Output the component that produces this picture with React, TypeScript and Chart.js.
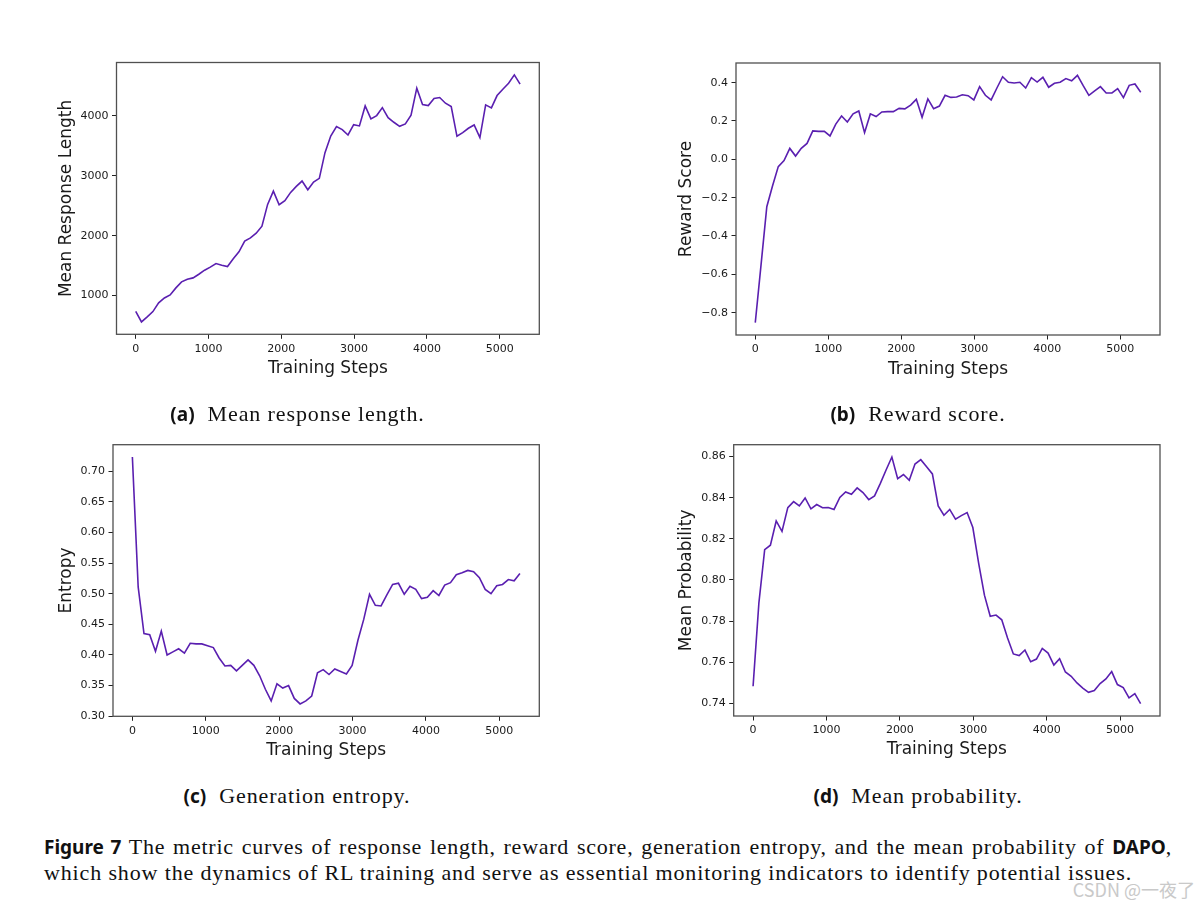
import React, { useEffect, useRef } from "react";
import { Chart, registerables } from "chart.js";

Chart.register(...registerables);

// ---------------- data ----------------
const STEPS = [
  0, 79, 158, 236, 315, 394, 473, 552, 630, 709,
  788, 867, 946, 1024, 1103, 1182, 1261, 1340, 1418, 1497,
  1576, 1655, 1734, 1812, 1891, 1970, 2049, 2128, 2206, 2285,
  2364, 2443, 2522, 2600, 2679, 2758, 2837, 2916, 2994, 3073,
  3152, 3231, 3310, 3388, 3467, 3546, 3625, 3704, 3782, 3861,
  3940, 4019, 4098, 4176, 4255, 4334, 4413, 4492, 4570, 4649,
  4728, 4807, 4886, 4964, 5043, 5122, 5201, 5280,
];

const LENGTH_VALUES = [
  737, 559, 643, 732, 877, 960, 1011, 1128, 1228, 1273,
  1295, 1356, 1423, 1474, 1535, 1507, 1485, 1613, 1730, 1909,
  1964, 2042, 2159, 2522, 2745, 2516, 2583, 2723, 2823, 2912,
  2767, 2896, 2957, 3387, 3665, 3822, 3771, 3682, 3855, 3833,
  4167, 3950, 4006, 4139, 3972, 3894, 3827, 3866, 4011, 4463,
  4190, 4173, 4290, 4307, 4212, 4156, 3660, 3721, 3794, 3849,
  3637, 4184, 4134, 4340, 4446, 4547, 4686, 4530,
];

const REWARD_VALUES = [
  -0.852, -0.551, -0.247, -0.139, -0.038, -0.007, 0.057, 0.017, 0.057, 0.083,
  0.148, 0.146, 0.146, 0.122, 0.184, 0.226, 0.195, 0.237, 0.252, 0.139,
  0.237, 0.223, 0.247, 0.249, 0.249, 0.266, 0.263, 0.283, 0.313, 0.219,
  0.315, 0.264, 0.278, 0.334, 0.323, 0.325, 0.337, 0.332, 0.31, 0.379,
  0.334, 0.31, 0.372, 0.431, 0.402, 0.398, 0.402, 0.372, 0.426, 0.403,
  0.428, 0.376, 0.397, 0.402, 0.421, 0.41, 0.438, 0.384, 0.334, 0.357,
  0.379, 0.346, 0.346, 0.369, 0.322, 0.386, 0.393, 0.35,
];

const ENTROPY_VALUES = [
  0.723, 0.511, 0.435, 0.433, 0.406, 0.439, 0.4, 0.405, 0.41, 0.403,
  0.419, 0.418, 0.418, 0.415, 0.412, 0.395, 0.382, 0.383, 0.374, 0.383,
  0.392, 0.383, 0.366, 0.344, 0.325, 0.353, 0.346, 0.35, 0.329, 0.32,
  0.325, 0.333, 0.371, 0.376, 0.368, 0.377, 0.373, 0.369, 0.383, 0.424,
  0.458, 0.499, 0.481, 0.48, 0.498, 0.515, 0.517, 0.499, 0.512, 0.507,
  0.492, 0.494, 0.505, 0.497, 0.514, 0.518, 0.531, 0.534, 0.538, 0.536,
  0.526, 0.507, 0.5, 0.513, 0.515, 0.523, 0.521, 0.533,
];

const PROB_VALUES = [
  0.7483, 0.7887, 0.8147, 0.8169, 0.8287, 0.8236, 0.8352, 0.8381, 0.836, 0.8399,
  0.8346, 0.8367, 0.8351, 0.8352, 0.8343, 0.8401, 0.8428, 0.8417, 0.8448, 0.8425,
  0.8391, 0.8409, 0.847, 0.8535, 0.8598, 0.8493, 0.8513, 0.8485, 0.8564, 0.8585,
  0.8551, 0.8516, 0.836, 0.8315, 0.8343, 0.8296, 0.8313, 0.8328, 0.8255, 0.8082,
  0.7926, 0.7823, 0.7829, 0.7806, 0.7717, 0.764, 0.7632, 0.7659, 0.7602, 0.7615,
  0.7667, 0.7644, 0.7586, 0.7617, 0.7552, 0.7531, 0.7499, 0.7474, 0.7453, 0.7462,
  0.7496, 0.7518, 0.7554, 0.7491, 0.7476, 0.7426, 0.7447, 0.7398,
];

const X_TICKS = [0, 1000, 2000, 3000, 4000, 5000];
const LENGTH_TICKS = [1000, 2000, 3000, 4000];
const REWARD_TICKS = [-0.8, -0.6, -0.4, -0.2, 0.0, 0.2, 0.4];
const ENTROPY_TICKS = [0.3, 0.35, 0.4, 0.45, 0.5, 0.55, 0.6, 0.65, 0.7];
const PROB_TICKS = [0.74, 0.76, 0.78, 0.8, 0.82, 0.84, 0.86];

const X_TITLE = "Training Steps";

// ---------------- styling ----------------
const LINE_COLOR = "#5a1fb0";
const FRAME_COLOR = "#505050";
const TEXT_COLOR = "#1a1a1a";
const TICK_FONT = 11;
const TITLE_FONT = 17;
const SANS = '"DejaVu Sans", sans-serif';
const SERIF = '"Liberation Serif", "DejaVu Serif", serif';
const BOLD_SANS = '"Noto Sans", "DejaVu Sans", sans-serif';

type PanelSpec = {
  values: number[];
  yTicks: number[];
  decimals: number;
  yTitle: string;
  box: [number, number, number, number]; // canvas left, top, width, height
  area: [number, number, number, number]; // plot left, top, right, bottom
  yTitleX: number;
  xTitleY: number;
};

const PANELS: PanelSpec[] = [
  {
    values: LENGTH_VALUES, yTicks: LENGTH_TICKS, decimals: 0, yTitle: "Mean Response Length",
    box: [40, 36, 520, 354], area: [116.5, 62.5, 539.3, 334.3], yTitleX: 67, xTitleY: 369,
  },
  {
    values: REWARD_VALUES, yTicks: REWARD_TICKS, decimals: 1, yTitle: "Reward Score",
    box: [660, 36, 520, 354], area: [736, 63, 1160, 335], yTitleX: 687, xTitleY: 369.5,
  },
  {
    values: ENTROPY_VALUES, yTicks: ENTROPY_TICKS, decimals: 2, yTitle: "Entropy",
    box: [40, 418, 520, 354], area: [113, 444.7, 539.3, 716.3], yTitleX: 67, xTitleY: 750.3,
  },
  {
    values: PROB_VALUES, yTicks: PROB_TICKS, decimals: 2, yTitle: "Mean Probability",
    box: [660, 418, 520, 354], area: [733.7, 444.7, 1160, 716], yTitleX: 687, xTitleY: 750,
  },
];

const framePlugin = {
  id: "frame",
  afterDatasetsDraw(chart: any) {
    const { ctx, chartArea } = chart;
    ctx.save();
    ctx.strokeStyle = FRAME_COLOR;
    ctx.lineWidth = 1.3;
    ctx.strokeRect(chartArea.left, chartArea.top, chartArea.right - chartArea.left, chartArea.bottom - chartArea.top);
    ctx.restore();
  },
};

function fmt(v: number, d: number) {
  const s = Number(v).toFixed(d);
  return s.replace("-", "\u2212");
}

function Panel({ spec }: { spec: PanelSpec }) {
  const ref = useRef<HTMLCanvasElement>(null);
  const [CL, CT, CW, CH] = spec.box;
  useEffect(() => {
    const [L, T, R, B] = spec.area;
    const half = (TITLE_FONT * 1.2) / 2;
    const yBoxLeft = spec.yTitleX - half;
    const xBoxBottom = spec.xTitleY + half;
    const lo = Math.min(...spec.values);
    const hi = Math.max(...spec.values);
    const ypad = (hi - lo) * 0.05;
    const xlo = Math.min(...STEPS);
    const xhi = Math.max(...STEPS);
    const xpad = (xhi - xlo) * 0.05;
    const tickCommon = {
      color: TEXT_COLOR,
      font: { family: SANS, size: TICK_FONT },
      padding: 3.5,
      autoSkip: false,
      maxRotation: 0,
      minRotation: 0,
    };
    const gridCommon = {
      display: true,
      drawOnChartArea: false,
      drawTicks: true,
      tickLength: 4.5,
      tickColor: "#222",
      tickWidth: 1,
    };
    const titleCommon = {
      display: true,
      color: TEXT_COLOR,
      font: { family: SANS, size: TITLE_FONT, lineHeight: 1.2 },
      padding: 0,
    };
    const chart = new Chart(ref.current as HTMLCanvasElement, {
      type: "line",
      data: {
        datasets: [
          {
            data: STEPS.map((s, i) => ({ x: s, y: spec.values[i] })),
            borderColor: LINE_COLOR,
            borderWidth: 1.6,
            pointRadius: 0,
            tension: 0,
            fill: false,
          },
        ],
      },
      options: {
        animation: false,
        responsive: false,
        maintainAspectRatio: false,
        events: [],
        layout: {
          padding: {
            left: yBoxLeft - CL,
            top: T - CT,
            right: CL + CW - R,
            bottom: CT + CH - xBoxBottom,
          },
        },
        plugins: { legend: { display: false }, tooltip: { enabled: false } },
        scales: {
          x: {
            type: "linear",
            min: xlo - xpad,
            max: xhi + xpad,
            afterBuildTicks: (s: any) => {
              s.ticks = X_TICKS.map((v) => ({ value: v }));
            },
            afterFit: (s: any) => {
              s.height = xBoxBottom - B;
            },
            ticks: { ...tickCommon, callback: (v: any) => fmt(v, 0) },
            grid: gridCommon,
            border: { display: false },
            title: { ...titleCommon, text: X_TITLE },
          },
          y: {
            type: "linear",
            min: lo - ypad,
            max: hi + ypad,
            afterBuildTicks: (s: any) => {
              s.ticks = spec.yTicks.map((v) => ({ value: v }));
            },
            afterFit: (s: any) => {
              s.width = L - yBoxLeft;
            },
            ticks: { ...tickCommon, callback: (v: any) => fmt(v, spec.decimals) },
            grid: gridCommon,
            border: { display: false },
            title: { ...titleCommon, text: spec.yTitle },
          },
        },
      } as any,
      plugins: [framePlugin],
    });
    return () => chart.destroy();
  }, []);
  return (
    <canvas
      ref={ref}
      width={CW}
      height={CH}
      style={{ position: "absolute", left: CL, top: CT, width: CW, height: CH }}
    />
  );
}

const SUBCAPTIONS = [
  { tag: "(a)", text: "Mean response length.", cx: 297.5, cy: 414 },
  { tag: "(b)", text: "Reward score.", cx: 918, cy: 414 },
  { tag: "(c)", text: "Generation entropy.", cx: 297, cy: 796 },
  { tag: "(d)", text: "Mean probability.", cx: 918, cy: 796 },
];

const serifStyle: React.CSSProperties = {
  fontFamily: SERIF,
  fontSize: 22,
  letterSpacing: "0.88px",
  color: "#111",
};

const tagStyle: React.CSSProperties = {
  fontFamily: BOLD_SANS,
  fontWeight: 700,
  fontSize: 19,
  color: "#111",
};

export default function App() {
  return (
    <div
      style={{
        position: "absolute",
        left: 0,
        top: 0,
        width: 1204,
        height: 910,
        background: "#fff",
        overflow: "hidden",
      }}
    >
      {PANELS.map((p, i) => (
        <Panel key={i} spec={p} />
      ))}
      {SUBCAPTIONS.map((c, i) => (
        <div
          key={i}
          style={{
            position: "absolute",
            left: c.cx - 300,
            width: 600,
            top: c.cy - 13,
            height: 26,
            lineHeight: "26px",
            textAlign: "center",
            whiteSpace: "nowrap",
          }}
        >
          <span style={tagStyle}>{c.tag}</span>
          <span style={{ ...serifStyle, marginLeft: 13 }}>{c.text}</span>
        </div>
      ))}
      <div
        style={{
          position: "absolute",
          left: 44,
          width: 1128,
          top: 834,
          height: 26,
          lineHeight: "26px",
          textAlign: "justify",
          textAlignLast: "justify",
          whiteSpace: "nowrap",
          ...serifStyle,
          letterSpacing: "0.75px",
        }}
      >
        <span style={{ ...tagStyle, letterSpacing: 0 }}>Figure 7</span>{" "}
        The metric curves of response length, reward score, generation entropy, and the mean probability of{" "}
        <span style={{ ...tagStyle, letterSpacing: 0 }}>DAPO</span>,
      </div>
      <div
        style={{
          position: "absolute",
          left: 44,
          top: 860,
          height: 26,
          lineHeight: "26px",
          whiteSpace: "nowrap",
          ...serifStyle,
          letterSpacing: "0.86px",
        }}
      >
        which show the dynamics of RL training and serve as essential monitoring indicators to identify potential issues.
      </div>
      <div
        style={{
          position: "absolute",
          right: 9,
          top: 876,
          height: 26,
          lineHeight: "26px",
          fontFamily: '"Noto Sans CJK SC", "Noto Sans", sans-serif',
          fontSize: 18,
          color: "#c9c9c9",
          whiteSpace: "nowrap",
        }}
      >
        CSDN @一夜了
      </div>
    </div>
  );
}
